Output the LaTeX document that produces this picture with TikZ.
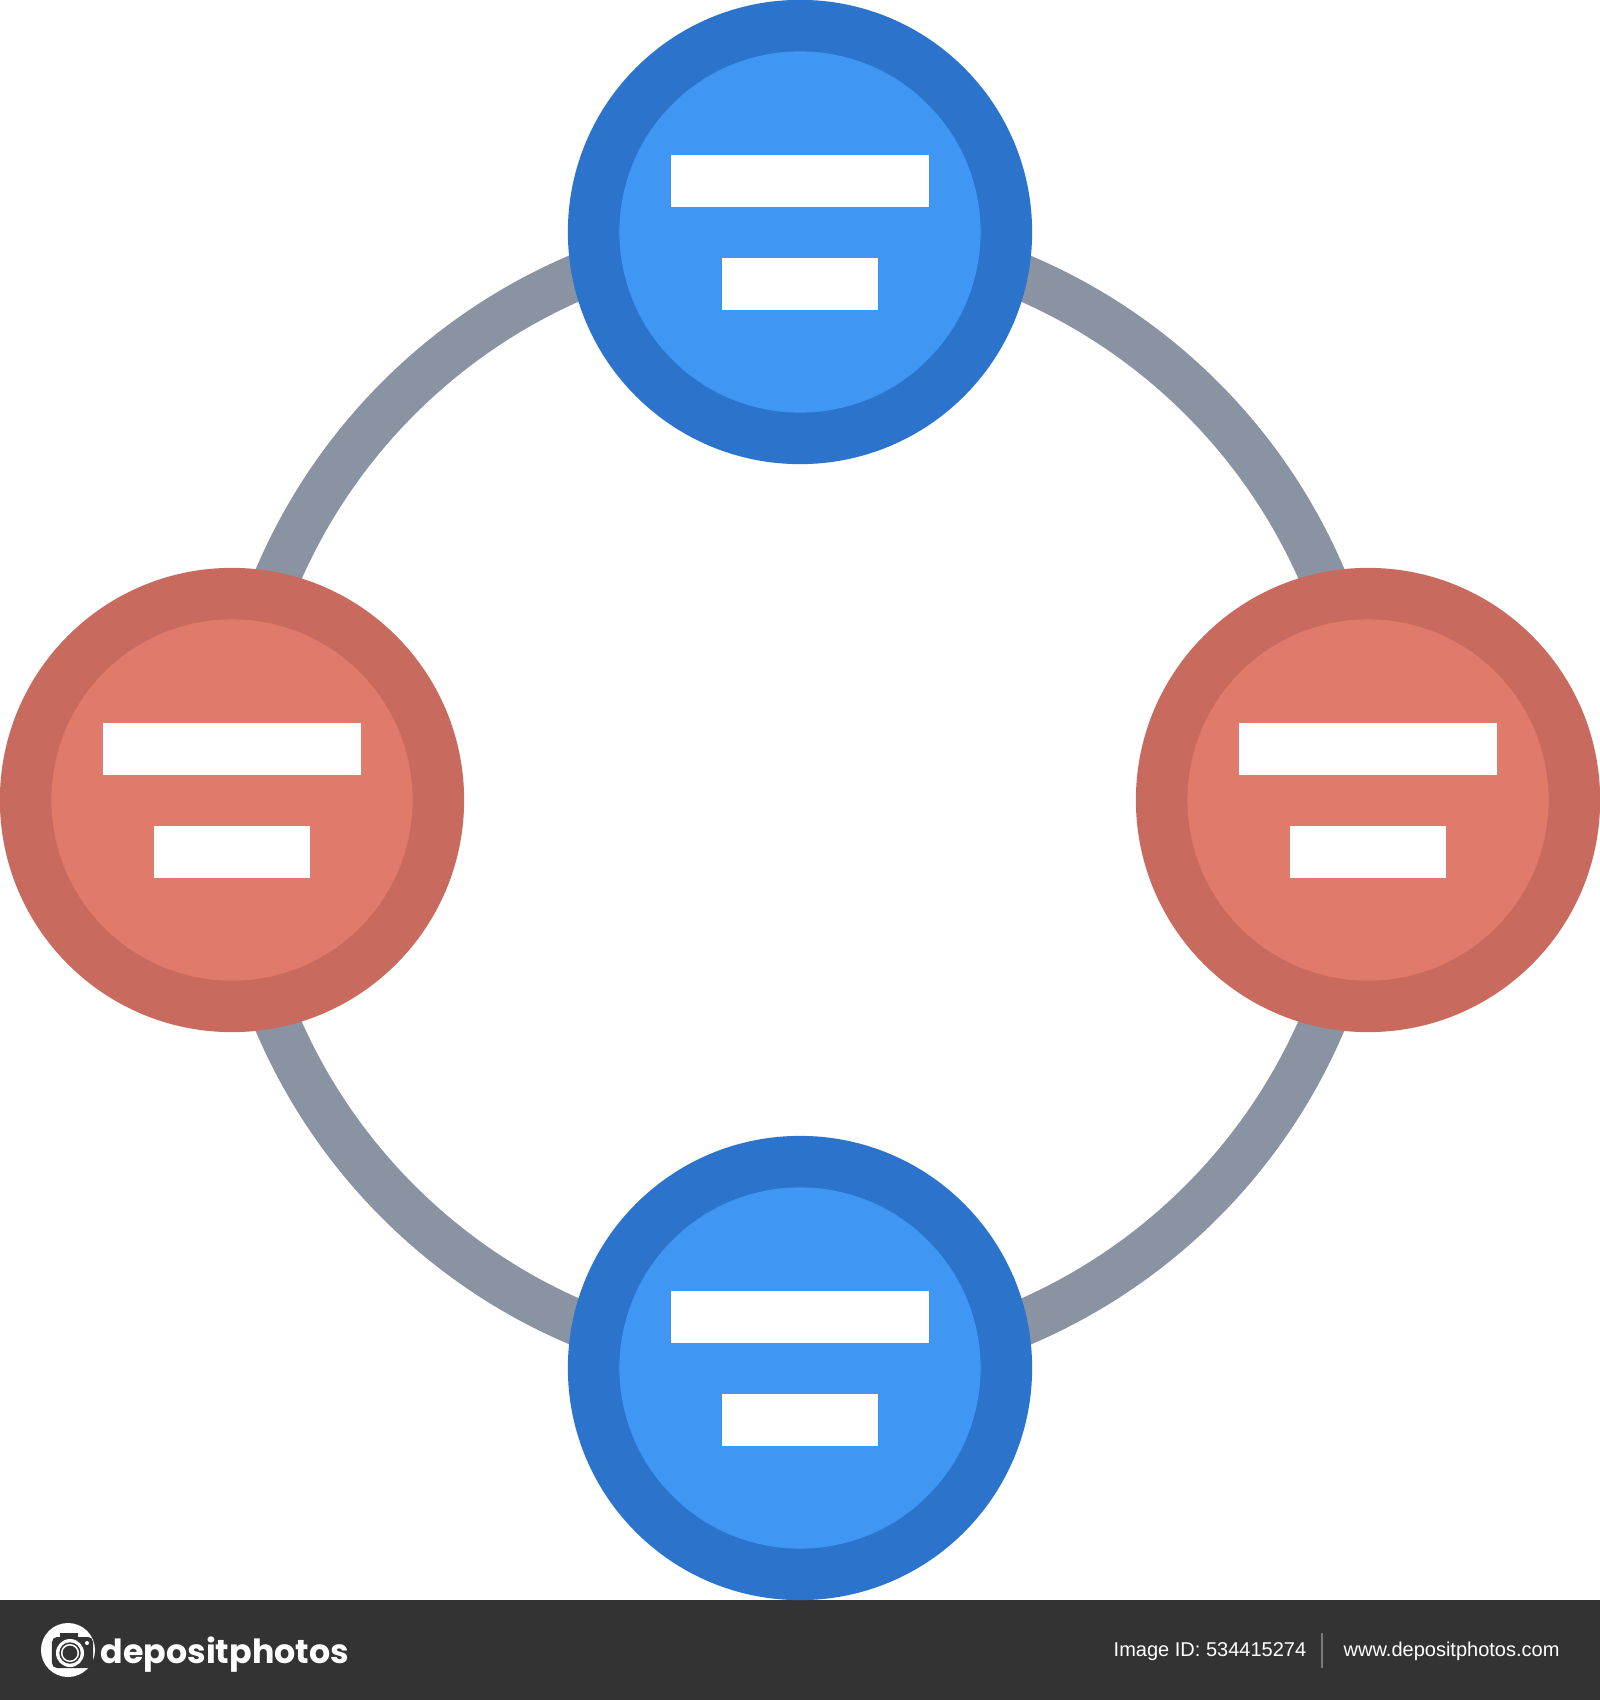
\documentclass[tikz,border=0pt]{standalone}
\usepackage{fontspec}
\usetikzlibrary{calc,backgrounds}
\newfontfamily\lsans{Liberation Sans}
\newfontfamily\pop{Poppins}
\definecolor{blueO}{HTML}{2C74CB}
\definecolor{blueI}{HTML}{4096F3}
\definecolor{redO}{HTML}{C86A5D}
\definecolor{redI}{HTML}{E07B6C}
\definecolor{ringgray}{HTML}{8993A2}
\definecolor{darkbar}{HTML}{333333}
\definecolor{sepgray}{HTML}{7A7A7A}
\newcommand\hubnode[4]{%
  \node[hub,fill=#3] (#1) at #2 {};
  \node[hubin,fill=#4] (#1in) at (#1) {};
  \node[longbar] (#1l) at ($(#1)+(0,-51)$) {};
  \node[shortbar] (#1s) at ($(#1)+(0,52)$) {};
}
\begin{document}
\begin{tikzpicture}[x=0.01cm,y=-0.01cm,
  hub/.style={circle,inner sep=0pt,minimum size=4.64cm},
  hubin/.style={circle,inner sep=0pt,minimum size=3.61cm},
  bar/.style={fill=white,inner sep=0pt,minimum height=0.52cm},
  longbar/.style={bar,minimum width=2.58cm},
  shortbar/.style={bar,minimum width=1.55cm},
  ring/.style={draw=ringgray,line width=0.46cm},
  foottext/.style={anchor=base west,inner sep=0pt,text=white,font=\lsans\fontsize{5.69pt}{6.5pt}\selectfont}]
\useasboundingbox (0,0) rectangle (1600,1700);

\hubnode{top}{(800,232)}{blueO}{blueI}
\hubnode{right}{(1368,800)}{redO}{redI}
\hubnode{bottom}{(800,1368)}{blueO}{blueI}
\hubnode{left}{(232,800)}{redO}{redI}

\begin{scope}[on background layer]
  \fill[white] (0,0) rectangle (1600,1600);
  \fill[darkbar] (0,1600) rectangle (1600,1700);
  \draw[ring] (top.center) arc[start angle=90,end angle=0,radius=5.68cm];
  \draw[ring] (right.center) arc[start angle=0,end angle=-90,radius=5.68cm];
  \draw[ring] (bottom.center) arc[start angle=-90,end angle=-180,radius=5.68cm];
  \draw[ring] (left.center) arc[start angle=180,end angle=90,radius=5.68cm];
\end{scope}

% footer logo
\node[circle,fill=white,inner sep=0pt,minimum size=0.54cm] (logo) at (68,1650) {};
\node[fill=darkbar,rounded corners=0.05cm,inner sep=0pt,minimum width=0.41cm,minimum height=0.31cm] (cam) at (72.5,1652.5) {};
\node[fill=darkbar,inner sep=0pt,minimum width=0.18cm,minimum height=0.06cm] (camtop) at (69,1636) {};
\node[circle,fill=white,inner sep=0pt,minimum size=0.28cm] (lens) at (70,1653) {};
\node[circle,fill=darkbar,inner sep=0pt,minimum size=0.214cm] (lensa) at (lens) {};
\node[circle,draw=white,line width=0.015cm,inner sep=0pt,minimum size=0.166cm] (lensb) at (lens) {};
\node[circle,fill=white,inner sep=0pt,minimum size=0.04cm] (flash) at (87,1643) {};
\node[anchor=base west,inner sep=0pt,text=white] (brand) at (100,1663) {\resizebox{2.48cm}{!}{\pop\bfseries depositphotos}};

% footer right
\node[foottext] (imgid) at (1113,1656) {Image ID: 534415274};
\coordinate (sepa) at (1322,1633);
\coordinate (sepb) at (1322,1668);
\draw[sepgray,line width=0.012cm] (sepa) -- (sepb);
\node[foottext] (url) at (1343,1656) {www.depositphotos.com};
\end{tikzpicture}
\end{document}
